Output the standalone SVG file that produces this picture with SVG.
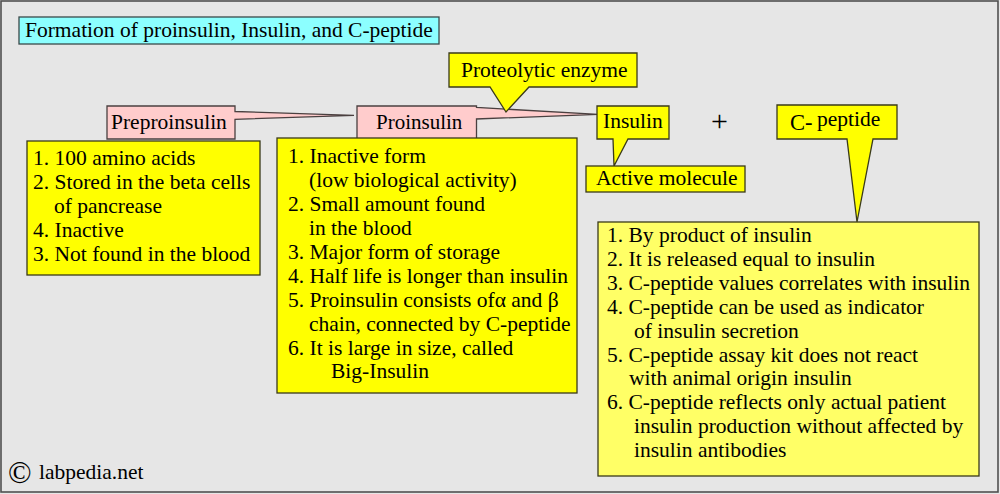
<svg xmlns="http://www.w3.org/2000/svg" width="1000" height="494" viewBox="0 0 1000 494">
<style>
text{font-family:"Liberation Serif","Times New Roman",serif;font-size:21.5px;fill:#000}
.y{fill:#ffff00;stroke:#3a3a1a;stroke-width:1.3}
.ly{fill:#ffff66;stroke:#3a3a1a;stroke-width:1.3}
.p{fill:#ffcccc;stroke:#4a4040;stroke-width:1.3}
.c{fill:#8cffff;stroke:#3a4a4a;stroke-width:1.3}
</style>
<rect x="0" y="0" width="1000" height="494" fill="#e6e6e6"/>
<rect x="1" y="1" width="997" height="491" fill="none" stroke="#505050" stroke-width="1.6"/>

<g id="title">
<rect class="c" x="19" y="17" width="420" height="27"/>
<text x="25" y="37">Formation of proinsulin, Insulin, and C-peptide</text>
</g>

<g id="preproinsulin">
<path class="p" d="M107,106 H235 V111.5 L354,115.3 L235,119.3 V139 H107 Z"/>
<text x="111" y="129">Preproinsulin</text>
</g>

<g id="proinsulin">
<path class="p" d="M357,106 H476.5 V107.5 L598,114.3 L476.5,119 V139 H357 Z"/>
<text x="376" y="129" style="font-size:21px">Proinsulin</text>
</g>

<g id="enzyme">
<path class="y" d="M449,53 H637 V87 H529 L506,112 L490,87 H449 Z"/>
<text x="461" y="77">Proteolytic enzyme</text>
</g>

<g id="insulin">
<path class="y" d="M597,106 H669 V139 H628 L614,166 L613,139 H597 Z"/>
<text x="603" y="128">Insulin</text>
</g>

<g id="active">
<rect class="y" x="586" y="166" width="159" height="26"/>
<text x="596" y="185">Active molecule</text>
</g>

<g id="plus">
<text x="711" y="131" style="font-size:30px">+</text>
</g>

<g id="cpeptide-details">
<rect class="ly" x="598" y="222" width="381" height="254"/>
<text>
<tspan x="607" y="242">1. By product of insulin</tspan>
<tspan x="607" y="265.9">2. It is released equal to insulin</tspan>
<tspan x="607" y="289.8">3. C-peptide values correlates with insulin</tspan>
<tspan x="607" y="313.7">4. C-peptide can be used as indicator</tspan>
<tspan x="634" y="337.6">of insulin secretion</tspan>
<tspan x="607" y="361.5">5. C-peptide assay kit does not react</tspan>
<tspan x="629" y="385.4">with animal origin insulin</tspan>
<tspan x="607" y="409.3">6. C-peptide reflects only actual patient</tspan>
<tspan x="634" y="433.2">insulin production without affected by</tspan>
<tspan x="634" y="457.1">insulin antibodies</tspan>
</text>
</g>

<g id="cpeptide">
<path class="y" d="M777,105 H897 V139 H873 L857,222 L847,139 H777 Z"/>
<text><tspan x="790" y="130" style="font-size:22.5px">C-</tspan><tspan x="817" y="126">peptide</tspan></text>
</g>

<g id="preproinsulin-details">
<rect class="y" x="27" y="141" width="233" height="134"/>
<text>
<tspan x="33" y="165">1. 100 amino acids</tspan>
<tspan x="33" y="188.9">2. Stored in the beta cells</tspan>
<tspan x="54" y="212.8">of pancrease</tspan>
<tspan x="33" y="236.7">4. Inactive</tspan>
<tspan x="33" y="260.6">3. Not found in the blood</tspan>
</text>
</g>

<g id="proinsulin-details">
<rect class="y" x="277" y="138" width="300" height="255"/>
<text>
<tspan x="288" y="163.3">1. Inactive form</tspan>
<tspan x="309" y="187.2">(low biological activity)</tspan>
<tspan x="288" y="211.1">2. Small amount found</tspan>
<tspan x="309" y="235">in the blood</tspan>
<tspan x="288" y="258.9">3. Major form of storage</tspan>
<tspan x="288" y="282.8">4. Half life is longer than insulin</tspan>
<tspan x="288" y="306.7">5. Proinsulin consists of</tspan><tspan y="306.7">α and β</tspan>
<tspan x="309" y="330.6">chain, connected by C-peptide</tspan>
<tspan x="288" y="354.5">6. It is large in size, called</tspan>
<tspan x="331" y="378.4">Big-Insulin</tspan>
</text>
</g>

<g id="connectors"></g>

<g id="copyright">
<text x="8" y="483" style="font-size:31px">©</text>
<text x="39" y="479">labpedia.net</text>
</g>
</svg>
